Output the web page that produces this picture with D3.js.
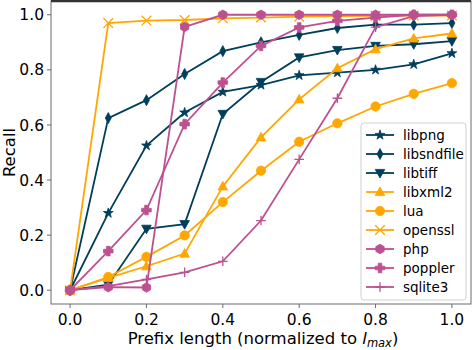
<!DOCTYPE html>
<html>
<head>
<meta charset="utf-8">
<script src="https://cdn.jsdelivr.net/npm/d3@7"></script>
<style>
  body { margin: 0; background: #fff; }
  text { font-family: "DejaVu Sans", sans-serif; fill: #000; }
</style>
</head>
<body>
<div id="chart"></div>
<script>
// prefix length steps
const prefix = [0, 0.1, 0.2, 0.3, 0.4, 0.5, 0.6, 0.7, 0.8, 0.9, 1.0];

// recall per target
const libpng     = [0, 0.28, 0.525, 0.645, 0.72, 0.745, 0.78, 0.79, 0.80, 0.82, 0.86];
const libsndfile = [0, 0.625, 0.69, 0.785, 0.868, 0.9, 0.927, 0.952, 0.964, 0.964, 0.97];
const libtiff    = [0, 0.02, 0.223, 0.24, 0.64, 0.756, 0.845, 0.872, 0.887, 0.893, 0.904];
const libxml2    = [0, 0.045, 0.087, 0.133, 0.377, 0.555, 0.693, 0.806, 0.875, 0.914, 0.932];
const lua        = [0, 0.048, 0.121, 0.199, 0.32, 0.434, 0.539, 0.606, 0.667, 0.713, 0.752];
const openssl    = [0, 0.97, 0.979, 0.981, 0.987, 0.99, 0.993, 0.995, 0.996, 0.997, 0.997];
const php        = [0, 0.011, 0.01, 0.956, 1, 1, 1, 1, 1, 1, 1];
const poppler    = [0, 0.142, 0.291, 0.603, 0.754, 0.887, 0.954, 0.978, 0.99, 1, 1];
const sqlite3    = [0, 0.015, 0.039, 0.065, 0.105, 0.253, 0.475, 0.697, 0.955, 0.995, 1];

const xTicks = [0, 0.2, 0.4, 0.6, 0.8, 1.0];
const yTicks = [0, 0.2, 0.4, 0.6, 0.8, 1.0];

const navy = "#003f5c", orange = "#ffa600", magenta = "#bc5090";

const series = [
  { name: "libpng", values: libpng, color: navy, marker: "star" },
  { name: "libsndfile", values: libsndfile, color: navy, marker: "thindiamond" },
  { name: "libtiff", values: libtiff, color: navy, marker: "tridown" },
  { name: "libxml2", values: libxml2, color: orange, marker: "triup" },
  { name: "lua", values: lua, color: orange, marker: "circle" },
  { name: "openssl", values: openssl, color: orange, marker: "x" },
  { name: "php", values: php, color: magenta, marker: "hexagon" },
  { name: "poppler", values: poppler, color: magenta, marker: "fatplus" },
  { name: "sqlite3", values: sqlite3, color: magenta, marker: "plus" }
];

const W = 474, H = 350;
const plot = { left: 51, right: 471, top: 1, bottom: 304 };

const x = d3.scaleLinear().domain([-0.05, 1.05]).range([plot.left, plot.right]);
const y = d3.scaleLinear().domain([-0.05, 1.05]).range([plot.bottom, plot.top]);

// marker shapes (path strings centred on 0,0)
function markerPath(kind) {
  const r = 4.8;
  switch (kind) {
    case "star": return d3.symbol(d3.symbolStar, 30)();
    case "thindiamond": return `M0,${-r*1.15}L${r*0.62},0L0,${r*1.15}L${-r*0.62},0Z`;
    case "tridown": return `M${-r},${-r*0.75}L${r},${-r*0.75}L0,${r*1.05}Z`;
    case "triup": return `M${-r},${r*0.75}L${r},${r*0.75}L0,${-r*1.05}Z`;
    case "circle": return d3.symbol(d3.symbolCircle, 68)();
    case "hexagon": {
      const pts = d3.range(6).map(i => {
        const a = Math.PI / 3 * i - Math.PI / 2;
        return [r * Math.cos(a), r * Math.sin(a)];
      });
      return "M" + pts.map(p => p.join(",")).join("L") + "Z";
    }
    case "fatplus": {
      const a = r, b = r * 0.38;
      return `M${-b},${-a}H${b}V${-b}H${a}V${b}H${b}V${a}H${-b}V${b}H${-a}V${-b}H${-b}Z`;
    }
    case "x": return `M${-r},${-r}L${r},${r}M${-r},${r}L${r},${-r}`;
    case "plus": return `M${-r},0H${r}M0,${-r}V${r}`;
  }
}
const stroked = { x: true, plus: true };

const svg = d3.select("#chart").append("svg")
  .attr("width", W)
  .attr("height", H);

// spines
svg.append("rect")
  .attr("x", plot.left).attr("y", plot.top)
  .attr("width", plot.right - plot.left).attr("height", plot.bottom - plot.top)
  .attr("fill", "none").attr("stroke", "#6b6b6b").attr("stroke-width", 1);
svg.append("line")
  .attr("x1", plot.left).attr("x2", plot.right)
  .attr("y1", 1).attr("y2", 1)
  .attr("stroke", "#333").attr("stroke-width", 2.5);

// x ticks
const xa = svg.append("g");
xTicks.forEach(t => {
  xa.append("line")
    .attr("x1", x(t)).attr("x2", x(t))
    .attr("y1", plot.bottom).attr("y2", plot.bottom + 4)
    .attr("stroke", "#6b6b6b");
  xa.append("text")
    .attr("x", x(t)).attr("y", plot.bottom + 21)
    .attr("text-anchor", "middle")
    .attr("font-size", "15.5px")
    .text(t.toFixed(1));
});

// y ticks
const ya = svg.append("g");
yTicks.forEach(t => {
  ya.append("line")
    .attr("x1", plot.left - 4).attr("x2", plot.left)
    .attr("y1", y(t)).attr("y2", y(t))
    .attr("stroke", "#6b6b6b");
  ya.append("text")
    .attr("x", plot.left - 7).attr("y", y(t))
    .attr("dy", "0.36em")
    .attr("text-anchor", "end")
    .attr("font-size", "15.5px")
    .text(t.toFixed(1));
});

// axis labels
const xl = svg.append("text")
  .attr("x", (plot.left + plot.right) / 2 + 2)
  .attr("y", 344)
  .attr("text-anchor", "middle")
  .attr("font-size", "16.5px");
xl.append("tspan").text("Prefix length (normalized to ");
xl.append("tspan").attr("font-style", "italic").text("l");
xl.append("tspan").attr("font-style", "italic").attr("font-size", "11.5px").attr("dy", 3).text("max");
xl.append("tspan").attr("dy", -3).text(")");

svg.append("text")
  .attr("transform", `translate(15,${(plot.top + plot.bottom) / 2}) rotate(-90)`)
  .attr("text-anchor", "middle")
  .attr("font-size", "16.5px")
  .text("Recall");

// series
const line = d3.line()
  .x((d, i) => x(prefix[i]))
  .y(d => y(d));

const g = svg.append("g");
series.forEach(s => {
  g.append("path")
    .datum(s.values)
    .attr("d", line)
    .attr("fill", "none")
    .attr("stroke", s.color)
    .attr("stroke-width", 1.8);
  g.selectAll(null)
    .data(s.values)
    .enter().append("path")
    .attr("transform", (d, i) => `translate(${x(prefix[i])},${y(d)})`)
    .attr("d", markerPath(s.marker))
    .attr("fill", stroked[s.marker] ? "none" : s.color)
    .attr("stroke", s.color)
    .attr("stroke-width", stroked[s.marker] ? 1.3 : 0.8);
});

// legend
const lg = svg.append("g").attr("transform", "translate(361,123)");
lg.append("rect")
  .attr("width", 105).attr("height", 177)
  .attr("rx", 3)
  .attr("fill", "#fff").attr("fill-opacity", 0.85)
  .attr("stroke", "#d0d0d0");
series.forEach((s, i) => {
  const row = lg.append("g").attr("transform", `translate(0,${12 + i * 19})`);
  row.append("line")
    .attr("x1", 5).attr("x2", 33)
    .attr("stroke", s.color).attr("stroke-width", 1.8);
  row.append("path")
    .attr("transform", "translate(19,0)")
    .attr("d", markerPath(s.marker))
    .attr("fill", stroked[s.marker] ? "none" : s.color)
    .attr("stroke", s.color)
    .attr("stroke-width", stroked[s.marker] ? 1.3 : 0.8);
  row.append("text")
    .attr("x", 42).attr("dy", "0.35em")
    .attr("font-size", "13.5px")
    .text(s.name);
});
</script>
</body>
</html>
